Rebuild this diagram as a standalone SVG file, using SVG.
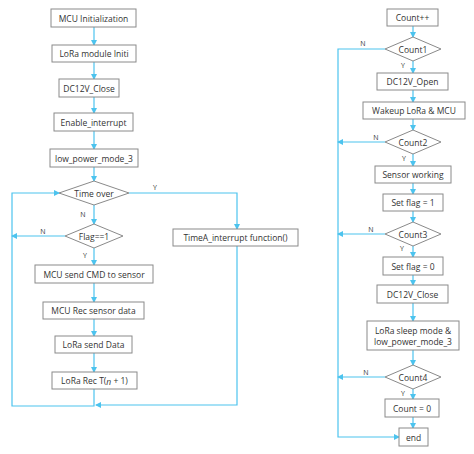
<svg xmlns="http://www.w3.org/2000/svg" width="474" height="454" viewBox="0 0 474 454">
<defs>
<marker id="ah" markerWidth="6" markerHeight="6" refX="5" refY="3" orient="auto" markerUnits="userSpaceOnUse">
<path d="M0,0 L6,3 L0,6 Z" fill="#4cc3ee"/>
</marker>
<style>
rect, polygon { fill: #ffffff; stroke: #8a8a8a; stroke-width: 1; }
text { font-family: "Open Sans", "Noto Sans", "Liberation Sans", sans-serif; font-size: 8.5px; fill: #333333; text-anchor: middle; dominant-baseline: central; }
text.lbl { font-size: 7px; }
.c path, .c line, .c polyline { fill: none; stroke: #4cc3ee; stroke-width: 1.2; }
.a { marker-end: url(#ah); }
</style>
</defs>
<rect x="0" y="0" width="474" height="454" style="fill:#ffffff;stroke:none"/>

<g class="c" id="connectors">
<line class="a" x1="94" y1="27" x2="94" y2="45"/>
<line class="a" x1="94" y1="62" x2="94" y2="79"/>
<line class="a" x1="94" y1="97" x2="94" y2="113"/>
<line class="a" x1="94" y1="131" x2="94" y2="149"/>
<line class="a" x1="94" y1="167" x2="94" y2="181"/>
<line class="a" x1="94" y1="205" x2="94" y2="224"/>
<line class="a" x1="94" y1="248" x2="94" y2="265"/>
<line class="a" x1="94" y1="283" x2="94" y2="302"/>
<line class="a" x1="94" y1="319" x2="94" y2="336"/>
<line class="a" x1="94" y1="353" x2="94" y2="372"/>
<polyline class="a" points="94,389 94,406 12,406 12,193 59,193"/>
<polyline class="a" points="129,193 237,193 237,229"/>
<polyline class="a" points="237,246 237,405 96,405"/>
<line class="a" x1="65" y1="236" x2="12" y2="236"/>

<line class="a" x1="413" y1="26" x2="413" y2="37"/>
<line class="a" x1="413" y1="61" x2="413" y2="73"/>
<line class="a" x1="413" y1="90" x2="413" y2="102"/>
<line class="a" x1="413" y1="119" x2="413" y2="130"/>
<line class="a" x1="413" y1="154" x2="413" y2="166"/>
<line class="a" x1="413" y1="183" x2="413" y2="194"/>
<line class="a" x1="413" y1="211" x2="413" y2="222"/>
<line class="a" x1="413" y1="246" x2="413" y2="257"/>
<line class="a" x1="413" y1="275" x2="413" y2="285"/>
<line class="a" x1="413" y1="303" x2="413" y2="321"/>
<line class="a" x1="413" y1="350" x2="413" y2="365"/>
<line class="a" x1="413" y1="389" x2="413" y2="399"/>
<line class="a" x1="413" y1="417" x2="413" y2="428"/>
<polyline class="a" points="385,49 338,49 338,437 399,437"/>
<line class="a" x1="385" y1="142" x2="338" y2="142"/>
<line class="a" x1="385" y1="234" x2="338" y2="234"/>
<line class="a" x1="385" y1="377" x2="338" y2="377"/>
</g>

<g id="labels">
<text class="lbl" x="155" y="187">Y</text>
<text class="lbl" x="83" y="214">N</text>
<text class="lbl" x="43" y="231">N</text>
<text class="lbl" x="85" y="255">Y</text>
<text class="lbl" x="363" y="43">N</text>
<text class="lbl" x="403" y="65">Y</text>
<text class="lbl" x="376" y="137">N</text>
<text class="lbl" x="404" y="158">Y</text>
<text class="lbl" x="371" y="229">N</text>
<text class="lbl" x="402" y="248">Y</text>
<text class="lbl" x="366" y="372">N</text>
<text class="lbl" x="403" y="393">Y</text>
</g>

<g id="mcu-init"><rect x="51" y="9" width="85" height="18"/><text x="93.5" y="18">MCU Initialization</text></g>
<g id="lora-init"><rect x="52" y="45" width="84" height="17"/><text x="94" y="53.5">LoRa module Initi</text></g>
<g id="dc12v-close-l"><rect x="59" y="79" width="60" height="18"/><text x="89" y="88">DC12V_Close</text></g>
<g id="enable-int"><rect x="54" y="113" width="79" height="18"/><text x="93.5" y="122">Enable_interrupt</text></g>
<g id="lpm3"><rect x="50" y="149" width="88" height="18"/><text x="94" y="158">low_power_mode_3</text></g>
<g id="time-over"><polygon points="59,193 94,181 129,193 94,205"/><text x="94" y="193">Time over</text></g>
<g id="flag"><polygon points="65,236 94,224 123,236 94,248"/><text x="94" y="236">Flag==1</text></g>
<g id="send-cmd"><rect x="35" y="265" width="118" height="18"/><text x="94" y="274">MCU send CMD to sensor</text></g>
<g id="rec-data"><rect x="43" y="302" width="101" height="17"/><text x="93.5" y="310.5">MCU Rec sensor data</text></g>
<g id="lora-send"><rect x="55" y="336" width="77" height="17"/><text x="93.5" y="344.5">LoRa send Data</text></g>
<g id="lora-rec"><rect x="52" y="372" width="85" height="17"/><text x="94.5" y="380.5">LoRa Rec T(<tspan font-style="italic">n</tspan> + 1)</text></g>
<g id="timea"><rect x="173" y="229" width="125" height="17"/><text x="235.5" y="237.5">TimeA_interrupt function()</text></g>

<g id="count-inc"><rect x="387" y="9" width="51" height="17"/><text x="412.5" y="17.5">Count++</text></g>
<g id="count1"><polygon points="385,49 413,37 441,49 413,61"/><text x="413" y="49">Count1</text></g>
<g id="dc12v-open"><rect x="377" y="73" width="71" height="17"/><text x="412.5" y="81.5">DC12V_Open</text></g>
<g id="wakeup"><rect x="363" y="102" width="102" height="17"/><text x="414" y="110.5">Wakeup LoRa &amp; MCU</text></g>
<g id="count2"><polygon points="385,142 413,130 441,142 413,154"/><text x="413" y="142">Count2</text></g>
<g id="sensor-working"><rect x="375" y="166" width="76" height="17"/><text x="413" y="174.5">Sensor working</text></g>
<g id="set-flag-1"><rect x="383" y="194" width="60" height="17"/><text x="413" y="202.5">Set flag = 1</text></g>
<g id="count3"><polygon points="385,234 413,222 441,234 413,246"/><text x="413" y="234">Count3</text></g>
<g id="set-flag-0"><rect x="383" y="257" width="60" height="18"/><text x="413" y="266">Set flag = 0</text></g>
<g id="dc12v-close-r"><rect x="377" y="285" width="71" height="18"/><text x="412.5" y="294">DC12V_Close</text></g>
<g id="lora-sleep"><rect x="367" y="321" width="92" height="29"/><text x="413" y="330">LoRa sleep mode &amp;</text><text x="413" y="341.5">low_power_mode_3</text></g>
<g id="count4"><polygon points="385,377 413,365 441,377 413,389"/><text x="413" y="377">Count4</text></g>
<g id="count-zero"><rect x="385" y="399" width="54" height="18"/><text x="412" y="408">Count = 0</text></g>
<g id="end"><rect x="399" y="428" width="29" height="18"/><text x="413.5" y="437">end</text></g>
</svg>
